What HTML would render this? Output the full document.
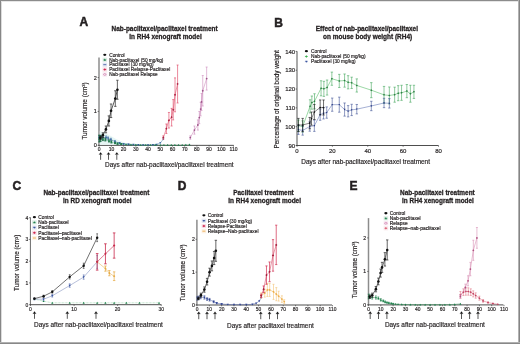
<!DOCTYPE html><html><head><meta charset="utf-8"><title>Figure</title><style>html,body{margin:0;padding:0;background:#fff;}body{width:520px;height:344px;overflow:hidden;}svg{display:block;}text{stroke:#231f20;stroke-width:0.17px;}text[font-weight=bold]{stroke-width:0.28px;}text[font-size="12"]{stroke-width:0.5px;}</style></head><body>
<svg width="520" height="344" viewBox="0 0 520 344" font-family='"Liberation Sans", sans-serif' fill="#231f20">
<rect x="0" y="0" width="520" height="344" fill="#fff"/>
<g id="content">
<text x="79.6" y="26" font-size="12" font-weight="bold">A</text>
<text x="111.6" y="31.3" font-size="6.5" font-weight="bold" textLength="106" lengthAdjust="spacingAndGlyphs">Nab-paclitaxel/paclitaxel treatment</text>
<text x="129.2" y="38.9" font-size="6.5" font-weight="bold" textLength="72.5" lengthAdjust="spacingAndGlyphs">in RH4 xenograft model</text>
<line x1="99" y1="57.6" x2="99" y2="145.35" stroke="#8c8c8c" stroke-width="1.5"/>
<line x1="97.6" y1="145.35" x2="99" y2="145.35" stroke="#333" stroke-width="0.6"/>
<text x="96.9" y="147.33" font-size="5.5" text-anchor="end">0</text>
<line x1="97.6" y1="111.45" x2="99" y2="111.45" stroke="#333" stroke-width="0.6"/>
<text x="96.9" y="113.43" font-size="5.5" text-anchor="end">1</text>
<line x1="97.6" y1="77.55" x2="99" y2="77.55" stroke="#333" stroke-width="0.6"/>
<text x="96.9" y="79.53" font-size="5.5" text-anchor="end">2</text>
<line x1="98.3" y1="145.35" x2="233.7" y2="145.35" stroke="#3a3a3a" stroke-width="0.9"/>
<line x1="99.2" y1="145.35" x2="99.2" y2="146.65" stroke="#333" stroke-width="0.6"/>
<text x="99.2" y="151.3" font-size="5.0" text-anchor="middle">0</text>
<line x1="111.41" y1="145.35" x2="111.41" y2="146.65" stroke="#333" stroke-width="0.6"/>
<text x="111.41" y="151.3" font-size="5.0" text-anchor="middle">10</text>
<line x1="123.62" y1="145.35" x2="123.62" y2="146.65" stroke="#333" stroke-width="0.6"/>
<text x="123.62" y="151.3" font-size="5.0" text-anchor="middle">20</text>
<line x1="135.83" y1="145.35" x2="135.83" y2="146.65" stroke="#333" stroke-width="0.6"/>
<text x="135.83" y="151.3" font-size="5.0" text-anchor="middle">30</text>
<line x1="148.04" y1="145.35" x2="148.04" y2="146.65" stroke="#333" stroke-width="0.6"/>
<text x="148.04" y="151.3" font-size="5.0" text-anchor="middle">40</text>
<line x1="160.25" y1="145.35" x2="160.25" y2="146.65" stroke="#333" stroke-width="0.6"/>
<text x="160.25" y="151.3" font-size="5.0" text-anchor="middle">50</text>
<line x1="172.46" y1="145.35" x2="172.46" y2="146.65" stroke="#333" stroke-width="0.6"/>
<text x="172.46" y="151.3" font-size="5.0" text-anchor="middle">60</text>
<line x1="184.67" y1="145.35" x2="184.67" y2="146.65" stroke="#333" stroke-width="0.6"/>
<text x="184.67" y="151.3" font-size="5.0" text-anchor="middle">70</text>
<line x1="196.88" y1="145.35" x2="196.88" y2="146.65" stroke="#333" stroke-width="0.6"/>
<text x="196.88" y="151.3" font-size="5.0" text-anchor="middle">80</text>
<line x1="209.09" y1="145.35" x2="209.09" y2="146.65" stroke="#333" stroke-width="0.6"/>
<text x="209.09" y="151.3" font-size="5.0" text-anchor="middle">90</text>
<line x1="221.3" y1="145.35" x2="221.3" y2="146.65" stroke="#333" stroke-width="0.6"/>
<text x="221.3" y="151.3" font-size="5.0" text-anchor="middle">100</text>
<line x1="233.51" y1="145.35" x2="233.51" y2="146.65" stroke="#333" stroke-width="0.6"/>
<text x="233.51" y="151.3" font-size="5.0" text-anchor="middle">110</text>
<path d="M100.6,153.5V159.8" stroke="#3a3a3a" stroke-width="0.85" fill="none"/>
<path d="M100.6,152.4L102.15,154.6L100.6,154.1L99.05,154.6Z" fill="#111" stroke="#111" stroke-width="0.3" stroke-linejoin="round"/>
<path d="M108.5,153.5V159.8" stroke="#3a3a3a" stroke-width="0.85" fill="none"/>
<path d="M108.5,152.4L110.05,154.6L108.5,154.1L106.95,154.6Z" fill="#111" stroke="#111" stroke-width="0.3" stroke-linejoin="round"/>
<path d="M116.8,153.5V159.8" stroke="#3a3a3a" stroke-width="0.85" fill="none"/>
<path d="M116.8,152.4L118.35,154.6L116.8,154.1L115.25,154.6Z" fill="#111" stroke="#111" stroke-width="0.3" stroke-linejoin="round"/>
<text x="105.1" y="166.7" font-size="6.45" textLength="128.5" lengthAdjust="spacingAndGlyphs">Days after nab-paclitaxel/paclitaxel treatment</text>
<text transform="translate(86.5,110.95) rotate(-90)" font-size="6.35" text-anchor="middle" textLength="57.2" lengthAdjust="spacingAndGlyphs">Tumor volume (cm<tspan font-size="4.1" dy="-1.7">3</tspan><tspan dy="1.7">)</tspan></text>
<polygon points="99.8,131 104,132.5 110,135.5 116,139 124,142.5 132,144.8 99.8,144.8" fill="#e6f6f4"/>
<polyline points="99.2,137.89 100.42,137.21 102.86,137.55 106.04,137.55 108.11,138.23 110.92,139.59 114.95,141.49 119.59,143.18 123.62,143.99 128.5,144.33 133.39,144.67 138.27,144.84 143.16,145.01 148.04,145.01 152.92,144.94 156.59,144.5 160.25,142.98 163.3,139.25" fill="none" stroke="#4f7fae" stroke-width="0.5" stroke-linejoin="round"/>
<path d="M99.2,135.86V139.93M98.3,135.86H100.1M98.3,139.93H100.1" stroke="#2f5e9a" stroke-width="0.5" fill="none"/>
<path d="M100.42,135.18V139.25M99.52,135.18H101.32M99.52,139.25H101.32" stroke="#2f5e9a" stroke-width="0.5" fill="none"/>
<path d="M102.86,135.86V139.25M101.96,135.86H103.76M101.96,139.25H103.76" stroke="#2f5e9a" stroke-width="0.5" fill="none"/>
<path d="M106.04,135.86V139.25M105.14,135.86H106.94M105.14,139.25H106.94" stroke="#2f5e9a" stroke-width="0.5" fill="none"/>
<path d="M108.11,136.88V139.59M107.21,136.88H109.01M107.21,139.59H109.01" stroke="#2f5e9a" stroke-width="0.5" fill="none"/>
<path d="M110.92,138.23V140.94M110.02,138.23H111.82M110.02,140.94H111.82" stroke="#2f5e9a" stroke-width="0.5" fill="none"/>
<path d="M114.95,140.47V142.5M114.05,140.47H115.85M114.05,142.5H115.85" stroke="#2f5e9a" stroke-width="0.5" fill="none"/>
<path d="M119.59,142.5V143.86M118.69,142.5H120.49M118.69,143.86H120.49" stroke="#2f5e9a" stroke-width="0.5" fill="none"/>
<path d="M123.62,143.66V144.33M122.72,143.66H124.52M122.72,144.33H124.52" stroke="#2f5e9a" stroke-width="0.5" fill="none"/>
<path d="M128.5,143.99V144.67M127.6,143.99H129.4M127.6,144.67H129.4" stroke="#2f5e9a" stroke-width="0.5" fill="none"/>
<polygon points="99.2,138.98 98.11,137.07 100.29,137.07" fill="#2f5e9a"/>
<polygon points="100.42,138.31 99.33,136.39 101.51,136.39" fill="#2f5e9a"/>
<polygon points="102.86,138.65 101.77,136.73 103.96,136.73" fill="#2f5e9a"/>
<polygon points="106.04,138.65 104.95,136.73 107.13,136.73" fill="#2f5e9a"/>
<polygon points="108.11,139.32 107.02,137.41 109.21,137.41" fill="#2f5e9a"/>
<polygon points="110.92,140.68 109.83,138.77 112.01,138.77" fill="#2f5e9a"/>
<polygon points="114.95,142.58 113.86,140.67 116.04,140.67" fill="#2f5e9a"/>
<polygon points="119.59,144.27 118.5,142.36 120.68,142.36" fill="#2f5e9a"/>
<polygon points="123.62,145.09 122.53,143.17 124.71,143.17" fill="#2f5e9a"/>
<polygon points="128.5,145.43 127.41,143.51 129.6,143.51" fill="#2f5e9a"/>
<polygon points="133.39,145.76 132.3,143.85 134.48,143.85" fill="#2f5e9a"/>
<polygon points="138.27,145.93 137.18,144.02 139.36,144.02" fill="#2f5e9a"/>
<polygon points="143.16,146.1 142.06,144.19 144.25,144.19" fill="#2f5e9a"/>
<polygon points="148.04,146.1 146.95,144.19 149.13,144.19" fill="#2f5e9a"/>
<polygon points="152.92,146.04 151.83,144.12 154.02,144.12" fill="#2f5e9a"/>
<polygon points="156.59,145.59 155.49,143.68 157.68,143.68" fill="#2f5e9a"/>
<polygon points="160.25,144.07 159.16,142.16 161.34,142.16" fill="#2f5e9a"/>
<polygon points="163.3,140.34 162.21,138.43 164.4,138.43" fill="#2f5e9a"/>
<polyline points="99.2,138.57 99.93,138.57 100.67,138.57 102.86,138.91 105.31,139.59 108.97,140.94 111.41,141.96 115.07,142.98 117.52,143.66 121.18,143.99 126.06,144.33 130.95,144.67 135.83,144.84 140.71,145.01 145.6,145.01 150.48,145.01 155.37,145.01 160.25,145.01 163.91,145.01 167.58,145.01 171.24,145.01 174.9,145.01 178.56,145.01 182.23,145.01 185.89,144.84 189.55,144.67" fill="none" stroke="#1d7f4a" stroke-width="0.5" stroke-linejoin="round" stroke-dasharray="0.8,0.6"/>
<path d="M99.2,135.18V141.96M98.2,135.18H100.2M98.2,141.96H100.2" stroke="#1f6e48" stroke-width="0.9" fill="none"/>
<path d="M99.93,135.52V141.62M98.93,135.52H100.93M98.93,141.62H100.93" stroke="#1f6e48" stroke-width="0.9" fill="none"/>
<path d="M100.67,135.86V141.28M99.67,135.86H101.67M99.67,141.28H101.67" stroke="#1f6e48" stroke-width="0.9" fill="none"/>
<path d="M102.86,137.21V140.6M101.86,137.21H103.86M101.86,140.6H103.86" stroke="#1f6e48" stroke-width="0.9" fill="none"/>
<path d="M105.31,138.23V140.94M104.31,138.23H106.31M104.31,140.94H106.31" stroke="#1f6e48" stroke-width="0.9" fill="none"/>
<path d="M108.97,139.93V141.96M107.97,139.93H109.97M107.97,141.96H109.97" stroke="#1f6e48" stroke-width="0.9" fill="none"/>
<path d="M111.41,140.94V142.98M110.41,140.94H112.41M110.41,142.98H112.41" stroke="#1f6e48" stroke-width="0.9" fill="none"/>
<path d="M115.07,142.3V143.66M114.07,142.3H116.07M114.07,143.66H116.07" stroke="#1f6e48" stroke-width="0.9" fill="none"/>
<path d="M117.52,142.98V144.33M116.52,142.98H118.52M116.52,144.33H118.52" stroke="#1f6e48" stroke-width="0.9" fill="none"/>
<path d="M121.18,143.66V144.33M120.18,143.66H122.18M120.18,144.33H122.18" stroke="#1f6e48" stroke-width="0.9" fill="none"/>
<polygon points="99.2,137.48 98.11,139.39 100.29,139.39" fill="#1d7f4a"/>
<polygon points="99.93,137.48 98.84,139.39 101.03,139.39" fill="#1d7f4a"/>
<polygon points="100.67,137.48 99.57,139.39 101.76,139.39" fill="#1d7f4a"/>
<polygon points="102.86,137.82 101.77,139.73 103.96,139.73" fill="#1d7f4a"/>
<polygon points="105.31,138.49 104.21,140.41 106.4,140.41" fill="#1d7f4a"/>
<polygon points="108.97,139.85 107.88,141.76 110.06,141.76" fill="#1d7f4a"/>
<polygon points="111.41,140.87 110.32,142.78 112.5,142.78" fill="#1d7f4a"/>
<polygon points="115.07,141.88 113.98,143.8 116.17,143.8" fill="#1d7f4a"/>
<polygon points="117.52,142.56 116.42,144.47 118.61,144.47" fill="#1d7f4a"/>
<polygon points="121.18,142.9 120.09,144.81 122.27,144.81" fill="#1d7f4a"/>
<polygon points="126.06,143.24 124.97,145.15 127.15,145.15" fill="#1d7f4a"/>
<polygon points="130.95,143.58 129.85,145.49 132.04,145.49" fill="#1d7f4a"/>
<polygon points="135.83,143.75 134.74,145.66 136.92,145.66" fill="#1d7f4a"/>
<polygon points="140.71,143.92 139.62,145.83 141.81,145.83" fill="#1d7f4a"/>
<polygon points="145.6,143.92 144.51,145.83 146.69,145.83" fill="#1d7f4a"/>
<polygon points="150.48,143.92 149.39,145.83 151.57,145.83" fill="#1d7f4a"/>
<polygon points="155.37,143.92 154.27,145.83 156.46,145.83" fill="#1d7f4a"/>
<polygon points="160.25,143.92 159.16,145.83 161.34,145.83" fill="#1d7f4a"/>
<polygon points="163.91,143.92 162.82,145.83 165.01,145.83" fill="#1d7f4a"/>
<polygon points="167.58,143.92 166.48,145.83 168.67,145.83" fill="#1d7f4a"/>
<polygon points="171.24,143.92 170.15,145.83 172.33,145.83" fill="#1d7f4a"/>
<polygon points="174.9,143.92 173.81,145.83 175.99,145.83" fill="#1d7f4a"/>
<polygon points="178.56,143.92 177.47,145.83 179.66,145.83" fill="#1d7f4a"/>
<polygon points="182.23,143.92 181.14,145.83 183.32,145.83" fill="#1d7f4a"/>
<polygon points="185.89,143.75 184.8,145.66 186.98,145.66" fill="#1d7f4a"/>
<polygon points="189.55,143.58 188.46,145.49 190.65,145.49" fill="#1d7f4a"/>
<polyline points="100.42,137.89 102.86,135.18 105.92,129.42 108.85,120.94 111.04,110.77 115.32,98.57 117.39,89.75" fill="none" stroke="#111" stroke-width="0.7" stroke-linejoin="round"/>
<path d="M100.42,136.2V139.59M99.22,136.2H101.62M99.22,139.59H101.62" stroke="#333" stroke-width="0.75" fill="none"/>
<path d="M102.86,132.81V137.55M101.66,132.81H104.06M101.66,137.55H104.06" stroke="#333" stroke-width="0.75" fill="none"/>
<path d="M105.92,126.03V132.81M104.72,126.03H107.12M104.72,132.81H107.12" stroke="#333" stroke-width="0.75" fill="none"/>
<path d="M108.85,115.86V126.03M107.65,115.86H110.05M107.65,126.03H110.05" stroke="#333" stroke-width="0.75" fill="none"/>
<path d="M111.04,103.99V117.55M109.84,103.99H112.24M109.84,117.55H112.24" stroke="#333" stroke-width="0.75" fill="none"/>
<path d="M115.32,90.77V106.37M114.12,90.77H116.52M114.12,106.37H116.52" stroke="#333" stroke-width="0.75" fill="none"/>
<path d="M117.39,80.26V99.25M116.19,80.26H118.59M116.19,99.25H118.59" stroke="#333" stroke-width="0.75" fill="none"/>
<circle cx="100.42" cy="137.89" r="1.35" fill="#111"/>
<circle cx="102.86" cy="135.18" r="1.35" fill="#111"/>
<circle cx="105.92" cy="129.42" r="1.35" fill="#111"/>
<circle cx="108.85" cy="120.94" r="1.35" fill="#111"/>
<circle cx="111.04" cy="110.77" r="1.35" fill="#111"/>
<circle cx="115.32" cy="98.57" r="1.35" fill="#111"/>
<circle cx="117.39" cy="89.75" r="1.35" fill="#111"/>
<polyline points="163.3,137.55 166.36,128.74 168.92,120.26 171.61,117.21 173.19,109.75 175.02,94.84 177.59,83.99" fill="none" stroke="#d83050" stroke-width="0.5" stroke-linejoin="round"/>
<path d="M163.3,135.86V139.25M162.3,135.86H164.3M162.3,139.25H164.3" stroke="#e04a68" stroke-width="0.65" fill="none"/>
<path d="M166.36,123.99V133.48M165.36,123.99H167.36M165.36,133.48H167.36" stroke="#e04a68" stroke-width="0.65" fill="none"/>
<path d="M168.92,112.47V128.06M167.92,112.47H169.92M167.92,128.06H169.92" stroke="#e04a68" stroke-width="0.65" fill="none"/>
<path d="M171.61,108.4V126.03M170.61,108.4H172.61M170.61,126.03H172.61" stroke="#e04a68" stroke-width="0.65" fill="none"/>
<path d="M173.19,99.58V119.92M172.19,99.58H174.19M172.19,119.92H174.19" stroke="#e04a68" stroke-width="0.65" fill="none"/>
<path d="M175.02,77.89V111.79M174.02,77.89H176.02M174.02,111.79H176.02" stroke="#e04a68" stroke-width="0.65" fill="none"/>
<path d="M177.59,65.01V102.97M176.59,65.01H178.59M176.59,102.97H178.59" stroke="#e04a68" stroke-width="0.65" fill="none"/>
<polygon points="163.3,136.43 164.43,137.55 163.3,138.68 162.18,137.55" fill="#a8203f"/>
<polygon points="166.36,127.61 167.48,128.74 166.36,129.86 165.23,128.74" fill="#a8203f"/>
<polygon points="168.92,119.14 170.04,120.26 168.92,121.39 167.79,120.26" fill="#a8203f"/>
<polygon points="171.61,116.09 172.73,117.21 171.61,118.34 170.48,117.21" fill="#a8203f"/>
<polygon points="173.19,108.63 174.32,109.75 173.19,110.88 172.07,109.75" fill="#a8203f"/>
<polygon points="175.02,93.71 176.15,94.84 175.02,95.96 173.9,94.84" fill="#a8203f"/>
<polygon points="177.59,82.87 178.71,83.99 177.59,85.12 176.46,83.99" fill="#a8203f"/>
<polyline points="190.29,137.55 194.44,130.09 197.86,125.01 199.32,117.55 200.67,109.08 201.52,101.96 202.74,90.77 206.65,78.57" fill="none" stroke="#c47aae" stroke-width="0.5" stroke-linejoin="round"/>
<path d="M190.29,135.86V139.25M189.29,135.86H191.29M189.29,139.25H191.29" stroke="#cc8cbc" stroke-width="0.6" fill="none"/>
<path d="M194.44,126.03V134.16M193.44,126.03H195.44M193.44,134.16H195.44" stroke="#cc8cbc" stroke-width="0.6" fill="none"/>
<path d="M197.86,119.92V130.09M196.86,119.92H198.86M196.86,130.09H198.86" stroke="#cc8cbc" stroke-width="0.6" fill="none"/>
<path d="M199.32,111.45V123.65M198.32,111.45H200.32M198.32,123.65H200.32" stroke="#cc8cbc" stroke-width="0.6" fill="none"/>
<path d="M200.67,102.3V115.86M199.67,102.3H201.67M199.67,115.86H201.67" stroke="#cc8cbc" stroke-width="0.6" fill="none"/>
<path d="M201.52,93.48V110.43M200.52,93.48H202.52M200.52,110.43H202.52" stroke="#cc8cbc" stroke-width="0.6" fill="none"/>
<path d="M202.74,75.52V106.03M201.74,75.52H203.74M201.74,106.03H203.74" stroke="#cc8cbc" stroke-width="0.6" fill="none"/>
<path d="M206.65,67.04V90.09M205.65,67.04H207.65M205.65,90.09H207.65" stroke="#cc8cbc" stroke-width="0.6" fill="none"/>
<circle cx="190.29" cy="137.55" r="0.9" fill="#9c5488"/>
<circle cx="194.44" cy="130.09" r="0.9" fill="#9c5488"/>
<circle cx="197.86" cy="125.01" r="0.9" fill="#9c5488"/>
<circle cx="199.32" cy="117.55" r="0.9" fill="#9c5488"/>
<circle cx="200.67" cy="109.08" r="0.9" fill="#9c5488"/>
<circle cx="201.52" cy="101.96" r="0.9" fill="#9c5488"/>
<circle cx="202.74" cy="90.77" r="0.9" fill="#9c5488"/>
<circle cx="206.65" cy="78.57" r="0.9" fill="#9c5488"/>
<ellipse cx="104.8" cy="54.87" rx="1.6" ry="1.15" fill="#111"/>
<text x="109.2" y="56.6" font-size="4.8">Control</text>
<rect x="102.5" y="57.67" width="4.6" height="4.2" fill="#dfede5"/>
<line x1="103.3" y1="59.77" x2="106.3" y2="59.77" stroke="#1d7f4a" stroke-width="0.5"/>
<polygon points="104.8,58.62 103.65,60.63 105.95,60.63" fill="#1d7f4a"/>
<text x="109.2" y="61.5" font-size="4.8" textLength="54.2" lengthAdjust="spacingAndGlyphs">Nab-paclitaxel (50 mg/kg)</text>
<rect x="102.5" y="62.57" width="4.6" height="4.2" fill="#e3e7f1"/>
<line x1="103.3" y1="64.67" x2="106.3" y2="64.67" stroke="#3a55a0" stroke-width="0.8"/>
<text x="109.2" y="66.4" font-size="4.8" textLength="44.3" lengthAdjust="spacingAndGlyphs">Paclitaxel (30 mg/kg)</text>
<rect x="102.5" y="67.42" width="4.6" height="4.2" fill="#f8e0e6"/>
<line x1="103.3" y1="69.52" x2="106.3" y2="69.52" stroke="#cf2650" stroke-width="0.5"/>
<polygon points="104.8,68.27 106.05,69.52 104.8,70.77 103.55,69.52" fill="#cf2650"/>
<text x="109.2" y="71.25" font-size="4.8" textLength="61" lengthAdjust="spacingAndGlyphs">Paclitaxel Relapse-Paclitaxel</text>
<rect x="102.5" y="72.37" width="4.6" height="4.2" fill="#f7e9f1"/>
<line x1="103.3" y1="74.47" x2="106.3" y2="74.47" stroke="#c8679f" stroke-width="0.5"/>
<circle cx="104.8" cy="74.47" r="1" fill="#fff" stroke="#c8679f" stroke-width="0.55"/>
<text x="109.2" y="76.2" font-size="4.8" textLength="48.5" lengthAdjust="spacingAndGlyphs">Nab-paclitaxel Relapse</text>
<text x="274.2" y="26.6" font-size="12" font-weight="bold">B</text>
<text x="315.8" y="31.3" font-size="6.5" font-weight="bold" textLength="102.2" lengthAdjust="spacingAndGlyphs">Effect of nab-paclitaxel/paclitaxel</text>
<text x="323.1" y="39.1" font-size="6.5" font-weight="bold" textLength="89.1" lengthAdjust="spacingAndGlyphs">on mouse body weight (RH4)</text>
<line x1="297" y1="51.3" x2="297" y2="145.5" stroke="#8c8c8c" stroke-width="1.5"/>
<line x1="295.6" y1="145.5" x2="297" y2="145.5" stroke="#333" stroke-width="0.6"/>
<text x="295.2" y="147.66" font-size="6.0" text-anchor="end">90</text>
<line x1="295.6" y1="126.68" x2="297" y2="126.68" stroke="#333" stroke-width="0.6"/>
<text x="295.2" y="128.84" font-size="6.0" text-anchor="end">100</text>
<line x1="295.6" y1="107.86" x2="297" y2="107.86" stroke="#333" stroke-width="0.6"/>
<text x="295.2" y="110.02" font-size="6.0" text-anchor="end">110</text>
<line x1="295.6" y1="89.04" x2="297" y2="89.04" stroke="#333" stroke-width="0.6"/>
<text x="295.2" y="91.2" font-size="6.0" text-anchor="end">120</text>
<line x1="295.6" y1="70.22" x2="297" y2="70.22" stroke="#333" stroke-width="0.6"/>
<text x="295.2" y="72.38" font-size="6.0" text-anchor="end">130</text>
<line x1="295.6" y1="51.4" x2="297" y2="51.4" stroke="#333" stroke-width="0.6"/>
<text x="295.2" y="53.56" font-size="6.0" text-anchor="end">140</text>
<line x1="296.2" y1="145.5" x2="438.5" y2="145.5" stroke="#3a3a3a" stroke-width="0.9"/>
<line x1="297" y1="145.5" x2="297" y2="146.8" stroke="#333" stroke-width="0.6"/>
<text x="297" y="152.9" font-size="6.0" text-anchor="middle">0</text>
<line x1="332.38" y1="145.5" x2="332.38" y2="146.8" stroke="#333" stroke-width="0.6"/>
<text x="332.38" y="152.9" font-size="6.0" text-anchor="middle">20</text>
<line x1="367.76" y1="145.5" x2="367.76" y2="146.8" stroke="#333" stroke-width="0.6"/>
<text x="367.76" y="152.9" font-size="6.0" text-anchor="middle">40</text>
<line x1="403.14" y1="145.5" x2="403.14" y2="146.8" stroke="#333" stroke-width="0.6"/>
<text x="403.14" y="152.9" font-size="6.0" text-anchor="middle">60</text>
<line x1="438.52" y1="145.5" x2="438.52" y2="146.8" stroke="#333" stroke-width="0.6"/>
<text x="438.52" y="152.9" font-size="6.0" text-anchor="middle">80</text>
<text x="301.3" y="163.8" font-size="6.45" textLength="128.7" lengthAdjust="spacingAndGlyphs">Days after nab-paclitaxel/paclitaxel treatment</text>
<text transform="translate(279,99.35) rotate(-90)" font-size="6.4" text-anchor="middle" textLength="98.3" lengthAdjust="spacingAndGlyphs">Percentage of original body weight</text>
<polyline points="298.42,125.74 302.66,126.49 310.09,106.35 311.86,102.59 314.51,101.27 321.06,88.29 323.89,88.85 327.07,87.53 331.85,78.69 339.28,80.95 344.59,80.57 348.12,82.26 351.66,82.83 356.79,85.46 371.3,90.17 384.03,94.87 389.34,95.44 394.65,94.69 398.19,93.18 401.55,92.8 406.85,91.11 410.39,93.75 413.93,91.86" fill="none" stroke="#39b14d" stroke-width="0.5" stroke-linejoin="round"/>
<path d="M298.42,120.09V131.38M297.22,120.09H299.62M297.22,131.38H299.62" stroke="#34a04e" stroke-width="0.55" fill="none"/>
<path d="M302.66,120.85V132.14M301.46,120.85H303.86M301.46,132.14H303.86" stroke="#34a04e" stroke-width="0.55" fill="none"/>
<path d="M310.09,99.77V112.94M308.89,99.77H311.29M308.89,112.94H311.29" stroke="#34a04e" stroke-width="0.55" fill="none"/>
<path d="M311.86,96V109.18M310.66,96H313.06M310.66,109.18H313.06" stroke="#34a04e" stroke-width="0.55" fill="none"/>
<path d="M314.51,93.75V108.8M313.31,93.75H315.71M313.31,108.8H315.71" stroke="#34a04e" stroke-width="0.55" fill="none"/>
<path d="M321.06,80.76V95.82M319.86,80.76H322.26M319.86,95.82H322.26" stroke="#34a04e" stroke-width="0.55" fill="none"/>
<path d="M323.89,81.32V96.38M322.69,81.32H325.09M322.69,96.38H325.09" stroke="#34a04e" stroke-width="0.55" fill="none"/>
<path d="M327.07,80.01V95.06M325.87,80.01H328.27M325.87,95.06H328.27" stroke="#34a04e" stroke-width="0.55" fill="none"/>
<path d="M331.85,72.1V85.28M330.65,72.1H333.05M330.65,85.28H333.05" stroke="#34a04e" stroke-width="0.55" fill="none"/>
<path d="M339.28,74.36V87.53M338.08,74.36H340.48M338.08,87.53H340.48" stroke="#34a04e" stroke-width="0.55" fill="none"/>
<path d="M344.59,73.98V87.16M343.39,73.98H345.79M343.39,87.16H345.79" stroke="#34a04e" stroke-width="0.55" fill="none"/>
<path d="M348.12,75.68V88.85M346.92,75.68H349.32M346.92,88.85H349.32" stroke="#34a04e" stroke-width="0.55" fill="none"/>
<path d="M351.66,77.18V88.48M350.46,77.18H352.86M350.46,88.48H352.86" stroke="#34a04e" stroke-width="0.55" fill="none"/>
<path d="M356.79,78.88V92.05M355.59,78.88H357.99M355.59,92.05H357.99" stroke="#34a04e" stroke-width="0.55" fill="none"/>
<path d="M371.3,82.64V97.7M370.1,82.64H372.5M370.1,97.7H372.5" stroke="#34a04e" stroke-width="0.55" fill="none"/>
<path d="M384.03,86.41V103.34M382.83,86.41H385.23M382.83,103.34H385.23" stroke="#34a04e" stroke-width="0.55" fill="none"/>
<path d="M389.34,86.97V103.91M388.14,86.97H390.54M388.14,103.91H390.54" stroke="#34a04e" stroke-width="0.55" fill="none"/>
<path d="M394.65,87.16V102.21M393.45,87.16H395.85M393.45,102.21H395.85" stroke="#34a04e" stroke-width="0.55" fill="none"/>
<path d="M398.19,85.65V100.71M396.99,85.65H399.39M396.99,100.71H399.39" stroke="#34a04e" stroke-width="0.55" fill="none"/>
<path d="M401.55,85.28V100.33M400.35,85.28H402.75M400.35,100.33H402.75" stroke="#34a04e" stroke-width="0.55" fill="none"/>
<path d="M406.85,84.52V97.7M405.65,84.52H408.05M405.65,97.7H408.05" stroke="#34a04e" stroke-width="0.55" fill="none"/>
<path d="M410.39,85.28V102.21M409.19,85.28H411.59M409.19,102.21H411.59" stroke="#34a04e" stroke-width="0.55" fill="none"/>
<path d="M413.93,85.28V98.45M412.73,85.28H415.13M412.73,98.45H415.13" stroke="#34a04e" stroke-width="0.55" fill="none"/>
<polygon points="298.42,124.74 299.42,125.74 298.42,126.74 297.42,125.74" fill="#2a7a42"/>
<polygon points="302.66,125.49 303.66,126.49 302.66,127.49 301.66,126.49" fill="#2a7a42"/>
<polygon points="310.09,105.35 311.09,106.35 310.09,107.35 309.09,106.35" fill="#2a7a42"/>
<polygon points="311.86,101.59 312.86,102.59 311.86,103.59 310.86,102.59" fill="#2a7a42"/>
<polygon points="314.51,100.27 315.51,101.27 314.51,102.27 313.51,101.27" fill="#2a7a42"/>
<polygon points="321.06,87.29 322.06,88.29 321.06,89.29 320.06,88.29" fill="#2a7a42"/>
<polygon points="323.89,87.85 324.89,88.85 323.89,89.85 322.89,88.85" fill="#2a7a42"/>
<polygon points="327.07,86.53 328.07,87.53 327.07,88.53 326.07,87.53" fill="#2a7a42"/>
<polygon points="331.85,77.69 332.85,78.69 331.85,79.69 330.85,78.69" fill="#2a7a42"/>
<polygon points="339.28,79.95 340.28,80.95 339.28,81.95 338.28,80.95" fill="#2a7a42"/>
<polygon points="344.59,79.57 345.59,80.57 344.59,81.57 343.59,80.57" fill="#2a7a42"/>
<polygon points="348.12,81.26 349.12,82.26 348.12,83.26 347.12,82.26" fill="#2a7a42"/>
<polygon points="351.66,81.83 352.66,82.83 351.66,83.83 350.66,82.83" fill="#2a7a42"/>
<polygon points="356.79,84.46 357.79,85.46 356.79,86.46 355.79,85.46" fill="#2a7a42"/>
<polygon points="371.3,89.17 372.3,90.17 371.3,91.17 370.3,90.17" fill="#2a7a42"/>
<polygon points="384.03,93.87 385.03,94.87 384.03,95.87 383.03,94.87" fill="#2a7a42"/>
<polygon points="389.34,94.44 390.34,95.44 389.34,96.44 388.34,95.44" fill="#2a7a42"/>
<polygon points="394.65,93.69 395.65,94.69 394.65,95.69 393.65,94.69" fill="#2a7a42"/>
<polygon points="398.19,92.18 399.19,93.18 398.19,94.18 397.19,93.18" fill="#2a7a42"/>
<polygon points="401.55,91.8 402.55,92.8 401.55,93.8 400.55,92.8" fill="#2a7a42"/>
<polygon points="406.85,90.11 407.85,91.11 406.85,92.11 405.85,91.11" fill="#2a7a42"/>
<polygon points="410.39,92.75 411.39,93.75 410.39,94.75 409.39,93.75" fill="#2a7a42"/>
<polygon points="413.93,90.86 414.93,91.86 413.93,92.86 412.93,91.86" fill="#2a7a42"/>
<polyline points="298.42,129.69 302.66,130.44 309.74,126.49 314.34,125.74 320.17,114.64 323.54,113.32 326.72,112.56 332.2,104.66 339.28,104.66 344.59,109.55 348.12,111.25 351.66,109.93 356.79,109.18 371.3,105.98 384.03,102.97 389.34,103.34" fill="none" stroke="#4a60a8" stroke-width="0.5" stroke-linejoin="round"/>
<path d="M298.42,124.99V134.4M297.22,124.99H299.62M297.22,134.4H299.62" stroke="#34488f" stroke-width="0.55" fill="none"/>
<path d="M302.66,125.74V135.15M301.46,125.74H303.86M301.46,135.15H303.86" stroke="#34488f" stroke-width="0.55" fill="none"/>
<path d="M309.74,121.79V131.2M308.54,121.79H310.94M308.54,131.2H310.94" stroke="#34488f" stroke-width="0.55" fill="none"/>
<path d="M314.34,120.09V131.38M313.14,120.09H315.54M313.14,131.38H315.54" stroke="#34488f" stroke-width="0.55" fill="none"/>
<path d="M320.17,108.99V120.28M318.97,108.99H321.37M318.97,120.28H321.37" stroke="#34488f" stroke-width="0.55" fill="none"/>
<path d="M323.54,107.67V118.96M322.34,107.67H324.74M322.34,118.96H324.74" stroke="#34488f" stroke-width="0.55" fill="none"/>
<path d="M326.72,106.92V118.21M325.52,106.92H327.92M325.52,118.21H327.92" stroke="#34488f" stroke-width="0.55" fill="none"/>
<path d="M332.2,98.07V111.25M331,98.07H333.4M331,111.25H333.4" stroke="#34488f" stroke-width="0.55" fill="none"/>
<path d="M339.28,97.13V112.19M338.08,97.13H340.48M338.08,112.19H340.48" stroke="#34488f" stroke-width="0.55" fill="none"/>
<path d="M344.59,102.97V116.14M343.39,102.97H345.79M343.39,116.14H345.79" stroke="#34488f" stroke-width="0.55" fill="none"/>
<path d="M348.12,105.6V116.89M346.92,105.6H349.32M346.92,116.89H349.32" stroke="#34488f" stroke-width="0.55" fill="none"/>
<path d="M351.66,104.28V115.58M350.46,104.28H352.86M350.46,115.58H352.86" stroke="#34488f" stroke-width="0.55" fill="none"/>
<path d="M356.79,104.47V113.88M355.59,104.47H357.99M355.59,113.88H357.99" stroke="#34488f" stroke-width="0.55" fill="none"/>
<path d="M371.3,101.27V110.68M370.1,101.27H372.5M370.1,110.68H372.5" stroke="#34488f" stroke-width="0.55" fill="none"/>
<path d="M384.03,98.26V107.67M382.83,98.26H385.23M382.83,107.67H385.23" stroke="#34488f" stroke-width="0.55" fill="none"/>
<path d="M389.34,98.64V108.05M388.14,98.64H390.54M388.14,108.05H390.54" stroke="#34488f" stroke-width="0.55" fill="none"/>
<polygon points="298.42,130.61 297.5,129 299.34,129" fill="#2a3c80"/>
<polygon points="302.66,131.36 301.74,129.75 303.58,129.75" fill="#2a3c80"/>
<polygon points="309.74,127.41 308.82,125.8 310.66,125.8" fill="#2a3c80"/>
<polygon points="314.34,126.66 313.42,125.05 315.26,125.05" fill="#2a3c80"/>
<polygon points="320.17,115.56 319.25,113.95 321.09,113.95" fill="#2a3c80"/>
<polygon points="323.54,114.24 322.62,112.63 324.46,112.63" fill="#2a3c80"/>
<polygon points="326.72,113.48 325.8,111.88 327.64,111.88" fill="#2a3c80"/>
<polygon points="332.2,105.58 331.28,103.97 333.12,103.97" fill="#2a3c80"/>
<polygon points="339.28,105.58 338.36,103.97 340.2,103.97" fill="#2a3c80"/>
<polygon points="344.59,110.47 343.67,108.86 345.51,108.86" fill="#2a3c80"/>
<polygon points="348.12,112.17 347.2,110.56 349.04,110.56" fill="#2a3c80"/>
<polygon points="351.66,110.85 350.74,109.24 352.58,109.24" fill="#2a3c80"/>
<polygon points="356.79,110.1 355.87,108.49 357.71,108.49" fill="#2a3c80"/>
<polygon points="371.3,106.9 370.38,105.29 372.22,105.29" fill="#2a3c80"/>
<polygon points="384.03,103.89 383.11,102.28 384.95,102.28" fill="#2a3c80"/>
<polygon points="389.34,104.26 388.42,102.65 390.26,102.65" fill="#2a3c80"/>
<polyline points="298.42,124.99 302.66,124.99 309.74,123.1 311.51,118.59 314.34,112 320.17,107.48 323.54,107.48" fill="none" stroke="#111" stroke-width="0.5" stroke-linejoin="round"/>
<path d="M298.42,118.4V131.57M297.22,118.4H299.62M297.22,131.57H299.62" stroke="#111" stroke-width="0.6" fill="none"/>
<path d="M302.66,118.4V131.57M301.46,118.4H303.86M301.46,131.57H303.86" stroke="#111" stroke-width="0.6" fill="none"/>
<path d="M309.74,117.46V128.75M308.54,117.46H310.94M308.54,128.75H310.94" stroke="#111" stroke-width="0.6" fill="none"/>
<path d="M311.51,112V125.17M310.31,112H312.71M310.31,125.17H312.71" stroke="#111" stroke-width="0.6" fill="none"/>
<path d="M314.34,104.47V119.53M313.14,104.47H315.54M313.14,119.53H315.54" stroke="#111" stroke-width="0.6" fill="none"/>
<path d="M320.17,99.96V115.01M318.97,99.96H321.37M318.97,115.01H321.37" stroke="#111" stroke-width="0.6" fill="none"/>
<path d="M323.54,99.96V115.01M322.34,99.96H324.74M322.34,115.01H324.74" stroke="#111" stroke-width="0.6" fill="none"/>
<circle cx="298.42" cy="124.99" r="0.85" fill="#111"/>
<circle cx="302.66" cy="124.99" r="0.85" fill="#111"/>
<circle cx="309.74" cy="123.1" r="0.85" fill="#111"/>
<circle cx="311.51" cy="118.59" r="0.85" fill="#111"/>
<circle cx="314.34" cy="112" r="0.85" fill="#111"/>
<circle cx="320.17" cy="107.48" r="0.85" fill="#111"/>
<circle cx="323.54" cy="107.48" r="0.85" fill="#111"/>
<ellipse cx="306.4" cy="51.17" rx="1.6" ry="1.15" fill="#111"/>
<text x="311" y="52.9" font-size="4.8">Control</text>
<line x1="304.9" y1="56.47" x2="307.9" y2="56.47" stroke="#39b14d" stroke-width="0.5"/>
<polygon points="306.4,55.22 307.65,56.47 306.4,57.72 305.15,56.47" fill="#39b14d"/>
<text x="311" y="58.2" font-size="4.8" textLength="54.6" lengthAdjust="spacingAndGlyphs">Nab-paclitaxel (50 mg/kg)</text>
<line x1="304.9" y1="61.67" x2="307.9" y2="61.67" stroke="#3a55a0" stroke-width="0.5"/>
<polygon points="306.4,62.82 305.25,60.81 307.55,60.81" fill="#3a55a0"/>
<text x="311" y="63.4" font-size="4.8" textLength="44.7" lengthAdjust="spacingAndGlyphs">Paclitaxel (30 mg/kg)</text>
<text x="12.6" y="189.9" font-size="12" font-weight="bold">C</text>
<text x="43.4" y="195" font-size="6.5" font-weight="bold" textLength="105.9" lengthAdjust="spacingAndGlyphs">Nab-paclitaxel/paclitaxel treatment</text>
<text x="63" y="202.9" font-size="6.5" font-weight="bold" textLength="68.6" lengthAdjust="spacingAndGlyphs">in RD xenograft model</text>
<line x1="30.4" y1="217.4" x2="30.4" y2="304.7" stroke="#6a6a6a" stroke-width="1.0"/>
<line x1="29" y1="304.7" x2="30.4" y2="304.7" stroke="#333" stroke-width="0.6"/>
<text x="28.4" y="306.5" font-size="5.0" text-anchor="end">0</text>
<line x1="29" y1="282.95" x2="30.4" y2="282.95" stroke="#333" stroke-width="0.6"/>
<text x="28.4" y="284.75" font-size="5.0" text-anchor="end">1</text>
<line x1="29" y1="261.2" x2="30.4" y2="261.2" stroke="#333" stroke-width="0.6"/>
<text x="28.4" y="263" font-size="5.0" text-anchor="end">2</text>
<line x1="29" y1="239.45" x2="30.4" y2="239.45" stroke="#333" stroke-width="0.6"/>
<text x="28.4" y="241.25" font-size="5.0" text-anchor="end">3</text>
<line x1="29" y1="217.7" x2="30.4" y2="217.7" stroke="#333" stroke-width="0.6"/>
<text x="28.4" y="219.5" font-size="5.0" text-anchor="end">4</text>
<line x1="29.8" y1="304.7" x2="161.4" y2="304.7" stroke="#3a3a3a" stroke-width="0.9"/>
<line x1="30.5" y1="304.7" x2="30.5" y2="306" stroke="#333" stroke-width="0.6"/>
<text x="30.5" y="310.6" font-size="5.0" text-anchor="middle">0</text>
<line x1="74.07" y1="304.7" x2="74.07" y2="306" stroke="#333" stroke-width="0.6"/>
<text x="74.07" y="310.6" font-size="5.0" text-anchor="middle">10</text>
<line x1="117.64" y1="304.7" x2="117.64" y2="306" stroke="#333" stroke-width="0.6"/>
<text x="117.64" y="310.6" font-size="5.0" text-anchor="middle">20</text>
<line x1="161.21" y1="304.7" x2="161.21" y2="306" stroke="#333" stroke-width="0.6"/>
<text x="161.21" y="310.6" font-size="5.0" text-anchor="middle">30</text>
<path d="M34.5,312.6V318.8" stroke="#3a3a3a" stroke-width="0.85" fill="none"/>
<path d="M34.5,311.5L36.05,313.7L34.5,313.2L32.95,313.7Z" fill="#111" stroke="#111" stroke-width="0.3" stroke-linejoin="round"/>
<path d="M67.3,312.6V318.8" stroke="#3a3a3a" stroke-width="0.85" fill="none"/>
<path d="M67.3,311.5L68.85,313.7L67.3,313.2L65.75,313.7Z" fill="#111" stroke="#111" stroke-width="0.3" stroke-linejoin="round"/>
<path d="M96,312.6V318.8" stroke="#3a3a3a" stroke-width="0.85" fill="none"/>
<path d="M96,311.5L97.55,313.7L96,313.2L94.45,313.7Z" fill="#111" stroke="#111" stroke-width="0.3" stroke-linejoin="round"/>
<text x="34" y="327.1" font-size="6.45" textLength="128.8" lengthAdjust="spacingAndGlyphs">Days after nab-paclitaxel/paclitaxel treatment</text>
<text transform="translate(19.4,262.8) rotate(-90)" font-size="6.3" text-anchor="middle" textLength="56.2" lengthAdjust="spacingAndGlyphs">Tumor volume (cm<tspan font-size="4.1" dy="-1.7">3</tspan><tspan dy="1.7">)</tspan></text>
<polyline points="34.42,299.05 43.57,301.22 52.28,302.81 69.71,302.81 83.66,302.81 97.16,302.81 105.44,302.81 114.15,302.81 126.35,302.81 139.43,302.81 159.03,302.81" fill="none" stroke="#5fb87a" stroke-width="0.5" stroke-linejoin="round" stroke-dasharray="0.7,0.7"/>
<polygon points="34.42,297.95 33.33,299.86 35.51,299.86" fill="#1d7f4a"/>
<polygon points="43.57,300.13 42.48,302.04 44.66,302.04" fill="#1d7f4a"/>
<polygon points="52.28,301.72 51.19,303.63 53.38,303.63" fill="#1d7f4a"/>
<polygon points="69.71,301.72 68.62,303.63 70.81,303.63" fill="#1d7f4a"/>
<polygon points="83.66,301.72 82.56,303.63 84.75,303.63" fill="#1d7f4a"/>
<polygon points="97.16,301.72 96.07,303.63 98.25,303.63" fill="#1d7f4a"/>
<polygon points="105.44,301.72 104.35,303.63 106.53,303.63" fill="#1d7f4a"/>
<polygon points="114.15,301.72 113.06,303.63 115.25,303.63" fill="#1d7f4a"/>
<polygon points="126.35,301.72 125.26,303.63 127.45,303.63" fill="#1d7f4a"/>
<polygon points="139.43,301.72 138.33,303.63 140.52,303.63" fill="#1d7f4a"/>
<polygon points="159.03,301.72 157.94,303.63 160.12,303.63" fill="#1d7f4a"/>
<polyline points="34.42,299.05 43.57,299.26 52.28,295.78 69.71,285.56 83.66,277.08 97.16,261.85" fill="none" stroke="#7080b4" stroke-width="0.5" stroke-linejoin="round"/>
<path d="M34.42,298.18V299.91M33.52,298.18H35.32M33.52,299.91H35.32" stroke="#3a55a0" stroke-width="0.5" fill="none"/>
<path d="M43.57,298.18V300.35M42.67,298.18H44.47M42.67,300.35H44.47" stroke="#3a55a0" stroke-width="0.5" fill="none"/>
<path d="M52.28,294.48V297.09M51.38,294.48H53.18M51.38,297.09H53.18" stroke="#3a55a0" stroke-width="0.5" fill="none"/>
<path d="M69.71,283.82V287.3M68.81,283.82H70.61M68.81,287.3H70.61" stroke="#3a55a0" stroke-width="0.5" fill="none"/>
<path d="M83.66,274.9V279.25M82.76,274.9H84.56M82.76,279.25H84.56" stroke="#3a55a0" stroke-width="0.5" fill="none"/>
<path d="M97.16,255.33V268.38M96.26,255.33H98.06M96.26,268.38H98.06" stroke="#3a55a0" stroke-width="0.5" fill="none"/>
<polygon points="34.42,300.14 33.33,298.23 35.51,298.23" fill="#3a55a0"/>
<polygon points="43.57,300.35 42.48,298.44 44.66,298.44" fill="#3a55a0"/>
<polygon points="52.28,296.87 51.19,294.96 53.38,294.96" fill="#3a55a0"/>
<polygon points="69.71,286.65 68.62,284.74 70.81,284.74" fill="#3a55a0"/>
<polygon points="83.66,278.17 82.56,276.26 84.75,276.26" fill="#3a55a0"/>
<polygon points="97.16,262.94 96.07,261.03 98.25,261.03" fill="#3a55a0"/>
<polyline points="34.42,298.61 43.57,296.22 52.28,291.87 69.71,276.86 83.66,265.77 97.16,237.71" fill="none" stroke="#111" stroke-width="0.6" stroke-linejoin="round"/>
<path d="M34.42,297.74V299.48M33.52,297.74H35.32M33.52,299.48H35.32" stroke="#111" stroke-width="0.5" fill="none"/>
<path d="M43.57,295.13V297.31M42.67,295.13H44.47M42.67,297.31H44.47" stroke="#111" stroke-width="0.5" fill="none"/>
<path d="M52.28,290.56V293.17M51.38,290.56H53.18M51.38,293.17H53.18" stroke="#111" stroke-width="0.5" fill="none"/>
<path d="M69.71,274.69V279.03M68.81,274.69H70.61M68.81,279.03H70.61" stroke="#111" stroke-width="0.5" fill="none"/>
<path d="M83.66,263.16V268.38M82.76,263.16H84.56M82.76,268.38H84.56" stroke="#111" stroke-width="0.5" fill="none"/>
<path d="M97.16,233.79V241.62M96.26,233.79H98.06M96.26,241.62H98.06" stroke="#111" stroke-width="0.5" fill="none"/>
<circle cx="34.42" cy="298.61" r="1.2" fill="#111"/>
<circle cx="43.57" cy="296.22" r="1.2" fill="#111"/>
<circle cx="52.28" cy="291.87" r="1.2" fill="#111"/>
<circle cx="69.71" cy="276.86" r="1.2" fill="#111"/>
<circle cx="83.66" cy="265.77" r="1.2" fill="#111"/>
<circle cx="97.16" cy="237.71" r="1.2" fill="#111"/>
<polyline points="97.16,261.85 105.44,268.59 109.36,273.16 114.15,276.21" fill="none" stroke="#e6a940" stroke-width="0.5" stroke-linejoin="round"/>
<path d="M105.44,265.99V271.2M104.24,265.99H106.64M104.24,271.2H106.64" stroke="#e6a940" stroke-width="0.7" fill="none"/>
<path d="M109.36,270.55V275.77M108.16,270.55H110.56M108.16,275.77H110.56" stroke="#e6a940" stroke-width="0.7" fill="none"/>
<path d="M114.15,271.86V280.56M112.95,271.86H115.35M112.95,280.56H115.35" stroke="#e6a940" stroke-width="0.7" fill="none"/>
<polygon points="97.16,260.73 98.29,261.85 97.16,262.98 96.04,261.85" fill="#e6a940"/>
<polygon points="105.44,267.47 106.57,268.59 105.44,269.72 104.32,268.59" fill="#e6a940"/>
<polygon points="109.36,272.04 110.49,273.16 109.36,274.29 108.24,273.16" fill="#e6a940"/>
<polygon points="114.15,275.08 115.28,276.21 114.15,277.33 113.03,276.21" fill="#e6a940"/>
<polyline points="97.16,261.85 105.44,253.81 114.15,245.54" fill="none" stroke="#c8284a" stroke-width="0.6" stroke-linejoin="round"/>
<path d="M97.16,253.59V270.12M95.86,253.59H98.46M95.86,270.12H98.46" stroke="#c8284a" stroke-width="0.8" fill="none"/>
<path d="M105.44,243.8V263.81M104.14,243.8H106.74M104.14,263.81H106.74" stroke="#c8284a" stroke-width="0.8" fill="none"/>
<path d="M114.15,232.92V258.15M112.85,232.92H115.45M112.85,258.15H115.45" stroke="#c8284a" stroke-width="0.8" fill="none"/>
<polygon points="97.16,260.6 98.41,261.85 97.16,263.1 95.91,261.85" fill="#c8284a"/>
<polygon points="105.44,252.56 106.69,253.81 105.44,255.06 104.19,253.81" fill="#c8284a"/>
<polygon points="114.15,244.29 115.4,245.54 114.15,246.79 112.9,245.54" fill="#c8284a"/>
<ellipse cx="34.4" cy="217.17" rx="1.6" ry="1.15" fill="#111"/>
<text x="38.3" y="218.9" font-size="4.8">Control</text>
<rect x="32.1" y="220.27" width="4.6" height="4.2" fill="#dfede5"/>
<line x1="32.9" y1="222.37" x2="35.9" y2="222.37" stroke="#1d7f4a" stroke-width="0.5"/>
<polygon points="34.4,221.22 33.25,223.23 35.55,223.23" fill="#1d7f4a"/>
<text x="38.3" y="224.1" font-size="4.8" textLength="30.4" lengthAdjust="spacingAndGlyphs">Nab-paclitaxel</text>
<rect x="32.1" y="225.47" width="4.6" height="4.2" fill="#e3e7f1"/>
<line x1="32.9" y1="227.57" x2="35.9" y2="227.57" stroke="#3a55a0" stroke-width="0.5"/>
<polygon points="34.4,228.72 33.25,226.71 35.55,226.71" fill="#3a55a0"/>
<text x="38.3" y="229.3" font-size="4.8">Paclitaxel</text>
<rect x="32.1" y="230.67" width="4.6" height="4.2" fill="#f8e0e6"/>
<line x1="32.9" y1="232.77" x2="35.9" y2="232.77" stroke="#cf2650" stroke-width="0.5"/>
<polygon points="34.4,231.52 35.65,232.77 34.4,234.02 33.15,232.77" fill="#cf2650"/>
<text x="38.3" y="234.5" font-size="4.8" textLength="43.5" lengthAdjust="spacingAndGlyphs">Paclitaxel–paclitaxel</text>
<rect x="32.1" y="235.92" width="4.6" height="4.2" fill="#fcf1e3"/>
<line x1="32.9" y1="238.02" x2="35.9" y2="238.02" stroke="#eea23c" stroke-width="0.8"/>
<text x="38.3" y="239.75" font-size="4.8" textLength="53.6" lengthAdjust="spacingAndGlyphs">Paclitaxel–nab-paclitaxel</text>
<text x="177.7" y="190.1" font-size="12" font-weight="bold">D</text>
<text x="233.3" y="194.7" font-size="6.5" font-weight="bold" textLength="60.4" lengthAdjust="spacingAndGlyphs">Paclitaxel treatment</text>
<text x="228.3" y="202.6" font-size="6.5" font-weight="bold" textLength="72.7" lengthAdjust="spacingAndGlyphs">in RH4 xenograft model</text>
<line x1="196.9" y1="219.7" x2="196.9" y2="305" stroke="#8c8c8c" stroke-width="1.5"/>
<line x1="195.5" y1="305" x2="196.9" y2="305" stroke="#333" stroke-width="0.6"/>
<text x="194.9" y="306.87" font-size="5.2" text-anchor="end">0</text>
<line x1="195.5" y1="272.15" x2="196.9" y2="272.15" stroke="#333" stroke-width="0.6"/>
<text x="194.9" y="274.02" font-size="5.2" text-anchor="end">1</text>
<line x1="195.5" y1="239.3" x2="196.9" y2="239.3" stroke="#333" stroke-width="0.6"/>
<text x="194.9" y="241.17" font-size="5.2" text-anchor="end">2</text>
<line x1="196.2" y1="305" x2="332" y2="305" stroke="#3a3a3a" stroke-width="0.9"/>
<line x1="197" y1="305" x2="197" y2="306.3" stroke="#333" stroke-width="0.6"/>
<text x="197" y="310.7" font-size="4.9" text-anchor="middle">0</text>
<line x1="209.32" y1="305" x2="209.32" y2="306.3" stroke="#333" stroke-width="0.6"/>
<text x="209.32" y="310.7" font-size="4.9" text-anchor="middle">10</text>
<line x1="221.64" y1="305" x2="221.64" y2="306.3" stroke="#333" stroke-width="0.6"/>
<text x="221.64" y="310.7" font-size="4.9" text-anchor="middle">20</text>
<line x1="233.96" y1="305" x2="233.96" y2="306.3" stroke="#333" stroke-width="0.6"/>
<text x="233.96" y="310.7" font-size="4.9" text-anchor="middle">30</text>
<line x1="246.28" y1="305" x2="246.28" y2="306.3" stroke="#333" stroke-width="0.6"/>
<text x="246.28" y="310.7" font-size="4.9" text-anchor="middle">40</text>
<line x1="258.6" y1="305" x2="258.6" y2="306.3" stroke="#333" stroke-width="0.6"/>
<text x="258.6" y="310.7" font-size="4.9" text-anchor="middle">50</text>
<line x1="270.92" y1="305" x2="270.92" y2="306.3" stroke="#333" stroke-width="0.6"/>
<text x="270.92" y="310.7" font-size="4.9" text-anchor="middle">60</text>
<line x1="283.24" y1="305" x2="283.24" y2="306.3" stroke="#333" stroke-width="0.6"/>
<text x="283.24" y="310.7" font-size="4.9" text-anchor="middle">70</text>
<line x1="295.56" y1="305" x2="295.56" y2="306.3" stroke="#333" stroke-width="0.6"/>
<text x="295.56" y="310.7" font-size="4.9" text-anchor="middle">80</text>
<line x1="307.88" y1="305" x2="307.88" y2="306.3" stroke="#333" stroke-width="0.6"/>
<text x="307.88" y="310.7" font-size="4.9" text-anchor="middle">90</text>
<line x1="320.2" y1="305" x2="320.2" y2="306.3" stroke="#333" stroke-width="0.6"/>
<text x="320.2" y="310.7" font-size="4.9" text-anchor="middle">100</text>
<line x1="332.52" y1="305" x2="332.52" y2="306.3" stroke="#333" stroke-width="0.6"/>
<text x="332.52" y="310.7" font-size="4.9" text-anchor="middle">110</text>
<path d="M198.75,312.9V319.2" stroke="#3a3a3a" stroke-width="0.85" fill="none"/>
<path d="M198.75,311.8L200.3,314L198.75,313.5L197.2,314Z" fill="#111" stroke="#111" stroke-width="0.3" stroke-linejoin="round"/>
<path d="M207,312.9V319.2" stroke="#3a3a3a" stroke-width="0.85" fill="none"/>
<path d="M207,311.8L208.55,314L207,313.5L205.45,314Z" fill="#111" stroke="#111" stroke-width="0.3" stroke-linejoin="round"/>
<path d="M215,312.9V319.2" stroke="#3a3a3a" stroke-width="0.85" fill="none"/>
<path d="M215,311.8L216.55,314L215,313.5L213.45,314Z" fill="#111" stroke="#111" stroke-width="0.3" stroke-linejoin="round"/>
<path d="M260.75,312.9V319.2" stroke="#3a3a3a" stroke-width="0.85" fill="none"/>
<path d="M260.75,311.8L262.3,314L260.75,313.5L259.2,314Z" fill="#111" stroke="#111" stroke-width="0.3" stroke-linejoin="round"/>
<path d="M269.5,312.9V319.2" stroke="#3a3a3a" stroke-width="0.85" fill="none"/>
<path d="M269.5,311.8L271.05,314L269.5,313.5L267.95,314Z" fill="#111" stroke="#111" stroke-width="0.3" stroke-linejoin="round"/>
<path d="M277.5,312.9V319.2" stroke="#3a3a3a" stroke-width="0.85" fill="none"/>
<path d="M277.5,311.8L279.05,314L277.5,313.5L275.95,314Z" fill="#111" stroke="#111" stroke-width="0.3" stroke-linejoin="round"/>
<text x="227.1" y="327.5" font-size="6.45" textLength="86.7" lengthAdjust="spacingAndGlyphs">Days after paclitaxel treatment</text>
<text transform="translate(185,272.75) rotate(-90)" font-size="6.35" text-anchor="middle" textLength="56.9" lengthAdjust="spacingAndGlyphs">Tumor volume (cm<tspan font-size="4.1" dy="-1.7">3</tspan><tspan dy="1.7">)</tspan></text>
<polyline points="197.37,298.43 198.36,297.77 200.7,297.12 204.39,297.44 207.1,299.09 209.57,299.74 213.63,301.71 216.71,303.19 221.64,304.01 227.8,304.51 233.96,304.67 240.12,304.67 246.28,304.67 252.44,304.34 256.14,303.36 259.22,301.06 261.19,297.77" fill="none" stroke="#4a5fa8" stroke-width="0.5" stroke-linejoin="round"/>
<path d="M197.37,296.79V300.07M196.37,296.79H198.37M196.37,300.07H198.37" stroke="#2e4290" stroke-width="0.6" fill="none"/>
<path d="M198.36,296.13V299.42M197.36,296.13H199.36M197.36,299.42H199.36" stroke="#2e4290" stroke-width="0.6" fill="none"/>
<path d="M200.7,295.47V298.76M199.7,295.47H201.7M199.7,298.76H201.7" stroke="#2e4290" stroke-width="0.6" fill="none"/>
<path d="M204.39,295.8V299.09M203.39,295.8H205.39M203.39,299.09H205.39" stroke="#2e4290" stroke-width="0.6" fill="none"/>
<path d="M207.1,297.77V300.4M206.1,297.77H208.1M206.1,300.4H208.1" stroke="#2e4290" stroke-width="0.6" fill="none"/>
<path d="M209.57,298.43V301.06M208.57,298.43H210.57M208.57,301.06H210.57" stroke="#2e4290" stroke-width="0.6" fill="none"/>
<path d="M213.63,300.73V302.7M212.63,300.73H214.63M212.63,302.7H214.63" stroke="#2e4290" stroke-width="0.6" fill="none"/>
<path d="M216.71,302.54V303.85M215.71,302.54H217.71M215.71,303.85H217.71" stroke="#2e4290" stroke-width="0.6" fill="none"/>
<path d="M221.64,303.69V304.34M220.64,303.69H222.64M220.64,304.34H222.64" stroke="#2e4290" stroke-width="0.6" fill="none"/>
<polygon points="197.37,299.52 196.28,297.61 198.46,297.61" fill="#2e4290"/>
<polygon points="198.36,298.87 197.26,296.95 199.45,296.95" fill="#2e4290"/>
<polygon points="200.7,298.21 199.6,296.3 201.79,296.3" fill="#2e4290"/>
<polygon points="204.39,298.54 203.3,296.63 205.48,296.63" fill="#2e4290"/>
<polygon points="207.1,300.18 206.01,298.27 208.19,298.27" fill="#2e4290"/>
<polygon points="209.57,300.84 208.47,298.92 210.66,298.92" fill="#2e4290"/>
<polygon points="213.63,302.81 212.54,300.9 214.72,300.9" fill="#2e4290"/>
<polygon points="216.71,304.29 215.62,302.37 217.8,302.37" fill="#2e4290"/>
<polygon points="221.64,305.11 220.55,303.2 222.73,303.2" fill="#2e4290"/>
<polygon points="227.8,305.6 226.71,303.69 228.89,303.69" fill="#2e4290"/>
<polygon points="233.96,305.76 232.87,303.85 235.05,303.85" fill="#2e4290"/>
<polygon points="240.12,305.76 239.03,303.85 241.21,303.85" fill="#2e4290"/>
<polygon points="246.28,305.76 245.19,303.85 247.37,303.85" fill="#2e4290"/>
<polygon points="252.44,305.44 251.35,303.52 253.53,303.52" fill="#2e4290"/>
<polygon points="256.14,304.45 255.04,302.54 257.23,302.54" fill="#2e4290"/>
<polygon points="259.22,302.15 258.12,300.24 260.31,300.24" fill="#2e4290"/>
<polygon points="261.19,298.87 260.09,296.95 262.28,296.95" fill="#2e4290"/>
<polyline points="198.36,298.43 200.94,295.14 204.39,289.56 207.1,281.68 209.57,272.15 211.91,265.91 214.12,258.02 215.85,250.8" fill="none" stroke="#111" stroke-width="0.6" stroke-linejoin="round"/>
<path d="M198.36,297.12V299.74M197.16,297.12H199.56M197.16,299.74H199.56" stroke="#333" stroke-width="0.75" fill="none"/>
<path d="M200.94,293.17V297.12M199.74,293.17H202.14M199.74,297.12H202.14" stroke="#333" stroke-width="0.75" fill="none"/>
<path d="M204.39,286.93V292.19M203.19,286.93H205.59M203.19,292.19H205.59" stroke="#333" stroke-width="0.75" fill="none"/>
<path d="M207.1,278.39V284.96M205.9,278.39H208.3M205.9,284.96H208.3" stroke="#333" stroke-width="0.75" fill="none"/>
<path d="M209.57,268.21V276.09M208.37,268.21H210.77M208.37,276.09H210.77" stroke="#333" stroke-width="0.75" fill="none"/>
<path d="M211.91,260.98V270.84M210.71,260.98H213.11M210.71,270.84H213.11" stroke="#333" stroke-width="0.75" fill="none"/>
<path d="M214.12,251.45V264.59M212.92,251.45H215.32M212.92,264.59H215.32" stroke="#333" stroke-width="0.75" fill="none"/>
<path d="M215.85,240.29V261.31M214.65,240.29H217.05M214.65,261.31H217.05" stroke="#333" stroke-width="0.75" fill="none"/>
<circle cx="198.36" cy="298.43" r="1.3" fill="#111"/>
<circle cx="200.94" cy="295.14" r="1.3" fill="#111"/>
<circle cx="204.39" cy="289.56" r="1.3" fill="#111"/>
<circle cx="207.1" cy="281.68" r="1.3" fill="#111"/>
<circle cx="209.57" cy="272.15" r="1.3" fill="#111"/>
<circle cx="211.91" cy="265.91" r="1.3" fill="#111"/>
<circle cx="214.12" cy="258.02" r="1.3" fill="#111"/>
<circle cx="215.85" cy="250.8" r="1.3" fill="#111"/>
<polyline points="261.19,295.47 264.76,293.17 267.35,289.89 269.69,289.89 273.51,291.86 276.34,294.16 278.68,296.13 281.88,299.09 284.23,301.71" fill="none" stroke="#efad45" stroke-width="0.5" stroke-linejoin="round"/>
<path d="M261.19,292.85V298.1M260.19,292.85H262.19M260.19,298.1H262.19" stroke="#f3c275" stroke-width="0.6" fill="none"/>
<path d="M264.76,289.23V297.12M263.76,289.23H265.76M263.76,297.12H265.76" stroke="#f3c275" stroke-width="0.6" fill="none"/>
<path d="M267.35,283.32V296.46M266.35,283.32H268.35M266.35,296.46H268.35" stroke="#f3c275" stroke-width="0.6" fill="none"/>
<path d="M269.69,283.32V296.46M268.69,283.32H270.69M268.69,296.46H270.69" stroke="#f3c275" stroke-width="0.6" fill="none"/>
<path d="M273.51,284.3V299.42M272.51,284.3H274.51M272.51,299.42H274.51" stroke="#f3c275" stroke-width="0.6" fill="none"/>
<path d="M276.34,287.59V300.73M275.34,287.59H277.34M275.34,300.73H277.34" stroke="#f3c275" stroke-width="0.6" fill="none"/>
<path d="M278.68,291.2V301.06M277.68,291.2H279.68M277.68,301.06H279.68" stroke="#f3c275" stroke-width="0.6" fill="none"/>
<path d="M281.88,295.8V302.37M280.88,295.8H282.88M280.88,302.37H282.88" stroke="#f3c275" stroke-width="0.6" fill="none"/>
<path d="M284.23,299.74V303.69M283.23,299.74H285.23M283.23,303.69H285.23" stroke="#f3c275" stroke-width="0.6" fill="none"/>
<polygon points="261.19,294.41 262.25,295.47 261.19,296.54 260.12,295.47" fill="#efad45"/>
<polygon points="264.76,292.11 265.82,293.17 264.76,294.24 263.7,293.17" fill="#efad45"/>
<polygon points="267.35,288.83 268.41,289.89 267.35,290.95 266.28,289.89" fill="#efad45"/>
<polygon points="269.69,288.83 270.75,289.89 269.69,290.95 268.63,289.89" fill="#efad45"/>
<polygon points="273.51,290.8 274.57,291.86 273.51,292.92 272.44,291.86" fill="#efad45"/>
<polygon points="276.34,293.1 277.4,294.16 276.34,295.22 275.28,294.16" fill="#efad45"/>
<polygon points="278.68,295.07 279.74,296.13 278.68,297.19 277.62,296.13" fill="#efad45"/>
<polygon points="281.88,298.02 282.95,299.09 281.88,300.15 280.82,299.09" fill="#efad45"/>
<polygon points="284.23,300.65 285.29,301.71 284.23,302.78 283.16,301.71" fill="#efad45"/>
<polyline points="261.19,295.8 263.65,289.23 266.48,275.11 269.56,271.82 273.01,255.4 276.22,244.88" fill="none" stroke="#d03050" stroke-width="0.5" stroke-linejoin="round"/>
<path d="M261.19,294.16V297.44M260.09,294.16H262.29M260.09,297.44H262.29" stroke="#d43a5a" stroke-width="0.75" fill="none"/>
<path d="M263.65,285.95V292.52M262.55,285.95H264.75M262.55,292.52H264.75" stroke="#d43a5a" stroke-width="0.75" fill="none"/>
<path d="M266.48,265.91V284.3M265.38,265.91H267.58M265.38,284.3H267.58" stroke="#d43a5a" stroke-width="0.75" fill="none"/>
<path d="M269.56,261.97V281.68M268.46,261.97H270.66M268.46,281.68H270.66" stroke="#d43a5a" stroke-width="0.75" fill="none"/>
<path d="M273.01,239.63V271.16M271.91,239.63H274.11M271.91,271.16H274.11" stroke="#d43a5a" stroke-width="0.75" fill="none"/>
<path d="M276.22,225.17V264.59M275.12,225.17H277.32M275.12,264.59H277.32" stroke="#d43a5a" stroke-width="0.75" fill="none"/>
<polygon points="261.19,294.61 262.37,295.8 261.19,296.99 260,295.8" fill="#a01c3a"/>
<polygon points="263.65,288.04 264.84,289.23 263.65,290.42 262.46,289.23" fill="#a01c3a"/>
<polygon points="266.48,273.92 267.67,275.11 266.48,276.29 265.3,275.11" fill="#a01c3a"/>
<polygon points="269.56,270.63 270.75,271.82 269.56,273.01 268.38,271.82" fill="#a01c3a"/>
<polygon points="273.01,254.21 274.2,255.4 273.01,256.58 271.83,255.4" fill="#a01c3a"/>
<polygon points="276.22,243.7 277.41,244.88 276.22,246.07 275.03,244.88" fill="#a01c3a"/>
<ellipse cx="203.9" cy="215.37" rx="1.6" ry="1.15" fill="#111"/>
<text x="207.8" y="217.1" font-size="4.8">Control</text>
<rect x="201.6" y="218.67" width="4.6" height="4.2" fill="#e3e7f1"/>
<line x1="202.4" y1="220.77" x2="205.4" y2="220.77" stroke="#3a55a0" stroke-width="0.5"/>
<polygon points="203.9,221.92 202.75,219.91 205.05,219.91" fill="#3a55a0"/>
<text x="207.8" y="222.5" font-size="4.8" textLength="44.4" lengthAdjust="spacingAndGlyphs">Paclitaxel (30 mg/kg)</text>
<rect x="201.6" y="223.97" width="4.6" height="4.2" fill="#f8e0e6"/>
<line x1="202.4" y1="226.07" x2="205.4" y2="226.07" stroke="#cf2650" stroke-width="0.5"/>
<polygon points="203.9,224.82 205.15,226.07 203.9,227.32 202.65,226.07" fill="#cf2650"/>
<text x="207.8" y="227.8" font-size="4.8" textLength="38.9" lengthAdjust="spacingAndGlyphs">Relapse-Paclitaxel</text>
<rect x="201.6" y="229.07" width="4.6" height="4.2" fill="#fcf1e3"/>
<line x1="202.4" y1="231.17" x2="205.4" y2="231.17" stroke="#eea23c" stroke-width="0.8"/>
<text x="207.8" y="232.9" font-size="4.8">Relapse–Nab-paclitaxel</text>
<text x="349.5" y="190.1" font-size="12" font-weight="bold">E</text>
<text x="400" y="194.7" font-size="6.5" font-weight="bold" textLength="74.7" lengthAdjust="spacingAndGlyphs">Nab-paclitaxel treatment</text>
<text x="402.1" y="202.6" font-size="6.5" font-weight="bold" textLength="71.7" lengthAdjust="spacingAndGlyphs">in RH4 xenograft model</text>
<line x1="368.5" y1="218.1" x2="368.5" y2="304.9" stroke="#8c8c8c" stroke-width="1.5"/>
<line x1="367.1" y1="304.9" x2="368.5" y2="304.9" stroke="#333" stroke-width="0.6"/>
<text x="366.2" y="306.77" font-size="5.2" text-anchor="end">0</text>
<line x1="367.1" y1="271.4" x2="368.5" y2="271.4" stroke="#333" stroke-width="0.6"/>
<text x="366.2" y="273.27" font-size="5.2" text-anchor="end">1</text>
<line x1="367.1" y1="237.9" x2="368.5" y2="237.9" stroke="#333" stroke-width="0.6"/>
<text x="366.2" y="239.77" font-size="5.2" text-anchor="end">2</text>
<line x1="367.7" y1="304.9" x2="503.4" y2="304.9" stroke="#3a3a3a" stroke-width="0.9"/>
<line x1="368.5" y1="304.9" x2="368.5" y2="306.2" stroke="#333" stroke-width="0.6"/>
<text x="368.5" y="310.9" font-size="4.9" text-anchor="middle">0</text>
<line x1="380.82" y1="304.9" x2="380.82" y2="306.2" stroke="#333" stroke-width="0.6"/>
<text x="380.82" y="310.9" font-size="4.9" text-anchor="middle">10</text>
<line x1="393.14" y1="304.9" x2="393.14" y2="306.2" stroke="#333" stroke-width="0.6"/>
<text x="393.14" y="310.9" font-size="4.9" text-anchor="middle">20</text>
<line x1="405.46" y1="304.9" x2="405.46" y2="306.2" stroke="#333" stroke-width="0.6"/>
<text x="405.46" y="310.9" font-size="4.9" text-anchor="middle">30</text>
<line x1="417.78" y1="304.9" x2="417.78" y2="306.2" stroke="#333" stroke-width="0.6"/>
<text x="417.78" y="310.9" font-size="4.9" text-anchor="middle">40</text>
<line x1="430.1" y1="304.9" x2="430.1" y2="306.2" stroke="#333" stroke-width="0.6"/>
<text x="430.1" y="310.9" font-size="4.9" text-anchor="middle">50</text>
<line x1="442.42" y1="304.9" x2="442.42" y2="306.2" stroke="#333" stroke-width="0.6"/>
<text x="442.42" y="310.9" font-size="4.9" text-anchor="middle">60</text>
<line x1="454.74" y1="304.9" x2="454.74" y2="306.2" stroke="#333" stroke-width="0.6"/>
<text x="454.74" y="310.9" font-size="4.9" text-anchor="middle">70</text>
<line x1="467.06" y1="304.9" x2="467.06" y2="306.2" stroke="#333" stroke-width="0.6"/>
<text x="467.06" y="310.9" font-size="4.9" text-anchor="middle">80</text>
<line x1="479.38" y1="304.9" x2="479.38" y2="306.2" stroke="#333" stroke-width="0.6"/>
<text x="479.38" y="310.9" font-size="4.9" text-anchor="middle">90</text>
<line x1="491.7" y1="304.9" x2="491.7" y2="306.2" stroke="#333" stroke-width="0.6"/>
<text x="491.7" y="310.9" font-size="4.9" text-anchor="middle">100</text>
<line x1="504.02" y1="304.9" x2="504.02" y2="306.2" stroke="#333" stroke-width="0.6"/>
<text x="504.02" y="310.9" font-size="4.9" text-anchor="middle">110</text>
<path d="M370.2,312.7V319" stroke="#3a3a3a" stroke-width="0.85" fill="none"/>
<path d="M370.2,311.6L371.75,313.8L370.2,313.3L368.65,313.8Z" fill="#111" stroke="#111" stroke-width="0.3" stroke-linejoin="round"/>
<path d="M378.5,312.7V319" stroke="#3a3a3a" stroke-width="0.85" fill="none"/>
<path d="M378.5,311.6L380.05,313.8L378.5,313.3L376.95,313.8Z" fill="#111" stroke="#111" stroke-width="0.3" stroke-linejoin="round"/>
<path d="M386.9,312.7V319" stroke="#3a3a3a" stroke-width="0.85" fill="none"/>
<path d="M386.9,311.6L388.45,313.8L386.9,313.3L385.35,313.8Z" fill="#111" stroke="#111" stroke-width="0.3" stroke-linejoin="round"/>
<path d="M461.5,312.7V319" stroke="#3a3a3a" stroke-width="0.85" fill="none"/>
<path d="M461.5,311.6L463.05,313.8L461.5,313.3L459.95,313.8Z" fill="#111" stroke="#111" stroke-width="0.3" stroke-linejoin="round"/>
<path d="M469.6,312.7V319" stroke="#3a3a3a" stroke-width="0.85" fill="none"/>
<path d="M469.6,311.6L471.15,313.8L469.6,313.3L468.05,313.8Z" fill="#111" stroke="#111" stroke-width="0.3" stroke-linejoin="round"/>
<path d="M478,312.7V319" stroke="#3a3a3a" stroke-width="0.85" fill="none"/>
<path d="M478,311.6L479.55,313.8L478,313.3L476.45,313.8Z" fill="#111" stroke="#111" stroke-width="0.3" stroke-linejoin="round"/>
<text x="384.9" y="327.4" font-size="6.45" textLength="99.9" lengthAdjust="spacingAndGlyphs">Days after nab-paclitaxel treatment</text>
<text transform="translate(356.5,269.8) rotate(-90)" font-size="6.35" text-anchor="middle" textLength="57" lengthAdjust="spacingAndGlyphs">Tumor volume (cm<tspan font-size="4.1" dy="-1.7">3</tspan><tspan dy="1.7">)</tspan></text>
<polyline points="368.5,296.52 369.73,296.19 372.2,297.53 375.89,297.53 378.36,298.2 380.82,299.88 383.28,300.88 385.13,301.88 386.98,302.55 388.83,302.89 391.29,303.39 393.14,303.73 395.6,304.06 398.07,304.23 401.76,304.4 405.46,304.5 410.39,304.63 415.32,304.7 420.24,304.7 425.17,304.7 430.1,304.7 435.03,304.7 439.96,304.7 444.88,304.7 449.81,304.63 454.74,304.4 460.41,303.89" fill="none" stroke="#3e9a62" stroke-width="0.5" stroke-linejoin="round"/>
<path d="M368.5,294.18V298.87M367.6,294.18H369.4M367.6,298.87H369.4" stroke="#1d7f4a" stroke-width="0.5" fill="none"/>
<path d="M369.73,294.18V298.2M368.83,294.18H370.63M368.83,298.2H370.63" stroke="#1d7f4a" stroke-width="0.5" fill="none"/>
<path d="M372.2,295.85V299.2M371.3,295.85H373.1M371.3,299.2H373.1" stroke="#1d7f4a" stroke-width="0.5" fill="none"/>
<path d="M375.89,295.85V299.2M374.99,295.85H376.79M374.99,299.2H376.79" stroke="#1d7f4a" stroke-width="0.5" fill="none"/>
<path d="M378.36,296.86V299.54M377.46,296.86H379.26M377.46,299.54H379.26" stroke="#1d7f4a" stroke-width="0.5" fill="none"/>
<path d="M380.82,298.53V301.21M379.92,298.53H381.72M379.92,301.21H381.72" stroke="#1d7f4a" stroke-width="0.5" fill="none"/>
<path d="M383.28,299.88V301.88M382.38,299.88H384.18M382.38,301.88H384.18" stroke="#1d7f4a" stroke-width="0.5" fill="none"/>
<path d="M385.13,300.88V302.89M384.23,300.88H386.03M384.23,302.89H386.03" stroke="#1d7f4a" stroke-width="0.5" fill="none"/>
<path d="M386.98,301.88V303.22M386.08,301.88H387.88M386.08,303.22H387.88" stroke="#1d7f4a" stroke-width="0.5" fill="none"/>
<path d="M388.83,302.22V303.56M387.93,302.22H389.73M387.93,303.56H389.73" stroke="#1d7f4a" stroke-width="0.5" fill="none"/>
<path d="M391.29,302.89V303.89M390.39,302.89H392.19M390.39,303.89H392.19" stroke="#1d7f4a" stroke-width="0.5" fill="none"/>
<path d="M393.14,303.39V304.06M392.24,303.39H394.04M392.24,304.06H394.04" stroke="#1d7f4a" stroke-width="0.5" fill="none"/>
<polygon points="368.5,295.49 367.46,297.3 369.54,297.3" fill="#1d7f4a"/>
<polygon points="369.73,295.15 368.7,296.97 370.77,296.97" fill="#1d7f4a"/>
<polygon points="372.2,296.49 371.16,298.31 373.23,298.31" fill="#1d7f4a"/>
<polygon points="375.89,296.49 374.86,298.31 376.93,298.31" fill="#1d7f4a"/>
<polygon points="378.36,297.16 377.32,298.98 379.39,298.98" fill="#1d7f4a"/>
<polygon points="380.82,298.84 379.78,300.65 381.86,300.65" fill="#1d7f4a"/>
<polygon points="383.28,299.84 382.25,301.66 384.32,301.66" fill="#1d7f4a"/>
<polygon points="385.13,300.85 384.1,302.66 386.17,302.66" fill="#1d7f4a"/>
<polygon points="386.98,301.52 385.94,303.33 388.02,303.33" fill="#1d7f4a"/>
<polygon points="388.83,301.85 387.79,303.67 389.86,303.67" fill="#1d7f4a"/>
<polygon points="391.29,302.36 390.26,304.17 392.33,304.17" fill="#1d7f4a"/>
<polygon points="393.14,302.69 392.1,304.5 394.18,304.5" fill="#1d7f4a"/>
<polygon points="395.6,303.03 394.57,304.84 396.64,304.84" fill="#1d7f4a"/>
<polygon points="398.07,303.19 397.03,305.01 399.1,305.01" fill="#1d7f4a"/>
<polygon points="401.76,303.36 400.73,305.17 402.8,305.17" fill="#1d7f4a"/>
<polygon points="405.46,303.46 404.42,305.27 406.5,305.27" fill="#1d7f4a"/>
<polygon points="410.39,303.6 409.35,305.41 411.42,305.41" fill="#1d7f4a"/>
<polygon points="415.32,303.66 414.28,305.48 416.35,305.48" fill="#1d7f4a"/>
<polygon points="420.24,303.66 419.21,305.48 421.28,305.48" fill="#1d7f4a"/>
<polygon points="425.17,303.66 424.14,305.48 426.21,305.48" fill="#1d7f4a"/>
<polygon points="430.1,303.66 429.06,305.48 431.14,305.48" fill="#1d7f4a"/>
<polygon points="435.03,303.66 433.99,305.48 436.06,305.48" fill="#1d7f4a"/>
<polygon points="439.96,303.66 438.92,305.48 440.99,305.48" fill="#1d7f4a"/>
<polygon points="444.88,303.66 443.85,305.48 445.92,305.48" fill="#1d7f4a"/>
<polygon points="449.81,303.6 448.78,305.41 450.85,305.41" fill="#1d7f4a"/>
<polygon points="454.74,303.36 453.7,305.17 455.78,305.17" fill="#1d7f4a"/>
<polygon points="460.41,302.86 459.37,304.67 461.44,304.67" fill="#1d7f4a"/>
<polyline points="369.73,296.86 372.2,295.19 375.89,289.15 378.36,281.45 380.57,273.07 382.05,267.38 384.89,259.34 387.23,249.96" fill="none" stroke="#111" stroke-width="0.6" stroke-linejoin="round"/>
<path d="M369.73,295.19V298.53M368.53,295.19H370.93M368.53,298.53H370.93" stroke="#333" stroke-width="0.75" fill="none"/>
<path d="M372.2,293.17V297.19M371,293.17H373.4M371,297.19H373.4" stroke="#333" stroke-width="0.75" fill="none"/>
<path d="M375.89,286.47V291.83M374.69,286.47H377.09M374.69,291.83H377.09" stroke="#333" stroke-width="0.75" fill="none"/>
<path d="M378.36,278.1V284.8M377.16,278.1H379.56M377.16,284.8H379.56" stroke="#333" stroke-width="0.75" fill="none"/>
<path d="M380.57,269.06V277.09M379.37,269.06H381.77M379.37,277.09H381.77" stroke="#333" stroke-width="0.75" fill="none"/>
<path d="M382.05,262.35V272.4M380.85,262.35H383.25M380.85,272.4H383.25" stroke="#333" stroke-width="0.75" fill="none"/>
<path d="M384.89,252.64V266.04M383.69,252.64H386.09M383.69,266.04H386.09" stroke="#333" stroke-width="0.75" fill="none"/>
<path d="M387.23,239.91V260.01M386.03,239.91H388.43M386.03,260.01H388.43" stroke="#333" stroke-width="0.75" fill="none"/>
<circle cx="369.73" cy="296.86" r="1.3" fill="#111"/>
<circle cx="372.2" cy="295.19" r="1.3" fill="#111"/>
<circle cx="375.89" cy="289.15" r="1.3" fill="#111"/>
<circle cx="378.36" cy="281.45" r="1.3" fill="#111"/>
<circle cx="380.57" cy="273.07" r="1.3" fill="#111"/>
<circle cx="382.05" cy="267.38" r="1.3" fill="#111"/>
<circle cx="384.89" cy="259.34" r="1.3" fill="#111"/>
<circle cx="387.23" cy="249.96" r="1.3" fill="#111"/>
<polyline points="460.41,294.85 463.36,292.17 465.83,291.5 468.29,291.5 470.76,292.17 473.22,293.84 475.68,295.52 479.38,298.2 483.08,300.88 488,302.55 492.93,303.56 497.86,304.23" fill="none" stroke="#dc6478" stroke-width="0.5" stroke-linejoin="round"/>
<path d="M460.41,291.5V298.2M459.41,291.5H461.41M459.41,298.2H461.41" stroke="#e07a8a" stroke-width="0.6" fill="none"/>
<path d="M463.36,288.82V295.52M462.36,288.82H464.36M462.36,295.52H464.36" stroke="#e07a8a" stroke-width="0.6" fill="none"/>
<path d="M465.83,287.81V295.19M464.83,287.81H466.83M464.83,295.19H466.83" stroke="#e07a8a" stroke-width="0.6" fill="none"/>
<path d="M468.29,287.81V295.19M467.29,287.81H469.29M467.29,295.19H469.29" stroke="#e07a8a" stroke-width="0.6" fill="none"/>
<path d="M470.76,288.82V295.52M469.76,288.82H471.76M469.76,295.52H471.76" stroke="#e07a8a" stroke-width="0.6" fill="none"/>
<path d="M473.22,290.83V296.86M472.22,290.83H474.22M472.22,296.86H474.22" stroke="#e07a8a" stroke-width="0.6" fill="none"/>
<path d="M475.68,292.84V298.2M474.68,292.84H476.68M474.68,298.2H476.68" stroke="#e07a8a" stroke-width="0.6" fill="none"/>
<path d="M479.38,296.19V300.21M478.38,296.19H480.38M478.38,300.21H480.38" stroke="#e07a8a" stroke-width="0.6" fill="none"/>
<path d="M483.08,299.54V302.22M482.08,299.54H484.08M482.08,302.22H484.08" stroke="#e07a8a" stroke-width="0.6" fill="none"/>
<path d="M488,301.88V303.22M487,301.88H489M487,303.22H489" stroke="#e07a8a" stroke-width="0.6" fill="none"/>
<path d="M492.93,303.22V303.89M491.93,303.22H493.93M491.93,303.89H493.93" stroke="#e07a8a" stroke-width="0.6" fill="none"/>
<polygon points="460.41,293.79 461.47,294.85 460.41,295.91 459.34,294.85" fill="#c04060"/>
<polygon points="463.36,291.11 464.43,292.17 463.36,293.23 462.3,292.17" fill="#c04060"/>
<polygon points="465.83,290.44 466.89,291.5 465.83,292.56 464.77,291.5" fill="#c04060"/>
<polygon points="468.29,290.44 469.35,291.5 468.29,292.56 467.23,291.5" fill="#c04060"/>
<polygon points="470.76,291.11 471.82,292.17 470.76,293.23 469.69,292.17" fill="#c04060"/>
<polygon points="473.22,292.78 474.28,293.84 473.22,294.91 472.16,293.84" fill="#c04060"/>
<polygon points="475.68,294.46 476.75,295.52 475.68,296.58 474.62,295.52" fill="#c04060"/>
<polygon points="479.38,297.14 480.44,298.2 479.38,299.26 478.32,298.2" fill="#c04060"/>
<polygon points="483.08,299.82 484.14,300.88 483.08,301.94 482.01,300.88" fill="#c04060"/>
<polygon points="488,301.49 489.07,302.55 488,303.62 486.94,302.55" fill="#c04060"/>
<polygon points="492.93,302.5 493.99,303.56 492.93,304.62 491.87,303.56" fill="#c04060"/>
<polygon points="497.86,303.17 498.92,304.23 497.86,305.29 496.8,304.23" fill="#c04060"/>
<polyline points="460.41,296.52 465.34,287.48 468.05,280.78 470.39,269.05 473.34,250.29 476.92,237.9" fill="none" stroke="#d07aa5" stroke-width="0.5" stroke-linejoin="round"/>
<path d="M460.41,294.85V298.2M459.41,294.85H461.41M459.41,298.2H461.41" stroke="#d890b5" stroke-width="0.6" fill="none"/>
<path d="M465.34,284.13V290.83M464.34,284.13H466.34M464.34,290.83H466.34" stroke="#d890b5" stroke-width="0.6" fill="none"/>
<path d="M468.05,275.75V285.8M467.05,275.75H469.05M467.05,285.8H469.05" stroke="#d890b5" stroke-width="0.6" fill="none"/>
<path d="M470.39,262.35V275.75M469.39,262.35H471.39M469.39,275.75H471.39" stroke="#d890b5" stroke-width="0.6" fill="none"/>
<path d="M473.34,240.24V260.34M472.34,240.24H474.34M472.34,260.34H474.34" stroke="#d890b5" stroke-width="0.6" fill="none"/>
<path d="M476.92,227.51V248.28M475.92,227.51H477.92M475.92,248.28H477.92" stroke="#d890b5" stroke-width="0.6" fill="none"/>
<circle cx="460.41" cy="296.52" r="0.9" fill="#b05080"/>
<circle cx="465.34" cy="287.48" r="0.9" fill="#b05080"/>
<circle cx="468.05" cy="280.78" r="0.9" fill="#b05080"/>
<circle cx="470.39" cy="269.05" r="0.9" fill="#b05080"/>
<circle cx="473.34" cy="250.29" r="0.9" fill="#b05080"/>
<circle cx="476.92" cy="237.9" r="0.9" fill="#b05080"/>
<ellipse cx="385.9" cy="213.27" rx="1.6" ry="1.15" fill="#111"/>
<text x="389.8" y="215" font-size="4.8">Control</text>
<rect x="383.6" y="216.17" width="4.6" height="4.2" fill="#dfede5"/>
<line x1="384.4" y1="218.27" x2="387.4" y2="218.27" stroke="#1d7f4a" stroke-width="0.5"/>
<polygon points="385.9,217.12 384.75,219.13 387.05,219.13" fill="#1d7f4a"/>
<text x="389.8" y="220" font-size="4.8" textLength="30.9" lengthAdjust="spacingAndGlyphs">Nab-paclitaxel</text>
<rect x="383.6" y="221.17" width="4.6" height="4.2" fill="#f7e9f1"/>
<line x1="384.4" y1="223.27" x2="387.4" y2="223.27" stroke="#c8679f" stroke-width="0.5"/>
<circle cx="385.9" cy="223.27" r="1" fill="#fff" stroke="#c8679f" stroke-width="0.55"/>
<text x="389.8" y="225" font-size="4.8" textLength="17.8" lengthAdjust="spacingAndGlyphs">Relapse</text>
<rect x="383.6" y="226.17" width="4.6" height="4.2" fill="#fae9ec"/>
<line x1="384.4" y1="228.27" x2="387.4" y2="228.27" stroke="#dc6478" stroke-width="0.5"/>
<polygon points="385.9,227.02 387.15,228.27 385.9,229.52 384.65,228.27" fill="#dc6478"/>
<text x="389.8" y="230" font-size="4.8" textLength="50.8" lengthAdjust="spacingAndGlyphs">Relapse–nab-paclitaxel</text>
</g>
<rect x="0" y="0" width="2" height="344" fill="#dcdcdc"/>
<rect x="0" y="0" width="520" height="2" fill="#e6e6e6"/>
<rect x="0" y="0" width="1" height="344" fill="#878787"/>
<rect x="0" y="0" width="520" height="1" fill="#8c8c8c"/>
<rect x="518" y="0" width="1" height="344" fill="#b2b2b2"/>
<rect x="519" y="0" width="1" height="344" fill="#858585"/>
<rect x="0" y="342" width="520" height="1" fill="#b0b0b0"/>
<rect x="0" y="343" width="520" height="1" fill="#888888"/>
</svg></body></html>
